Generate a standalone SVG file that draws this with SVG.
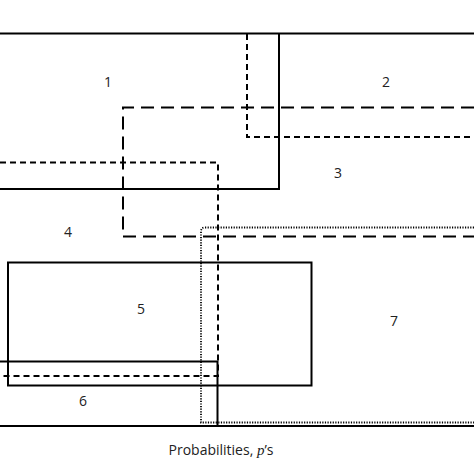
<svg xmlns="http://www.w3.org/2000/svg" width="474" height="474" viewBox="0 0 474 474">
<style>
.s{fill:none;stroke:#000;stroke-width:2}
.ld{fill:none;stroke:#000;stroke-width:2;stroke-dasharray:13 7}
.sd{fill:none;stroke:#000;stroke-width:2;stroke-dasharray:6 4}
.dt{fill:none;stroke:#000;stroke-width:1.8;stroke-dasharray:1.2 1.4}
.t{font-family:"Open Sans","Liberation Sans",sans-serif;font-size:14px;fill:#222;text-anchor:middle}
</style>
<rect width="474" height="474" fill="#fff"/>
<g id="axes">
<line class="s" x1="0" y1="33.5" x2="474" y2="33.5"/>
<line class="s" x1="0" y1="426" x2="474" y2="426"/>
</g>
<g id="set1"><path class="s" d="M0 189 H279 V33.5"/><text class="t" x="108" y="87">1</text></g>
<g id="set2"><path class="sd" d="M247 34 V137 H474"/><text class="t" x="386" y="87">2</text></g>
<g id="set3"><path class="ld" d="M474 107.5 H123 V236.5 H474"/><text class="t" x="338" y="178">3</text></g>
<g id="set4"><path class="sd" d="M0 162.5 H218 V376 H0"/><text class="t" x="68" y="237">4</text></g>
<g id="set5"><rect class="s" x="8" y="262.5" width="303.5" height="123"/><text class="t" x="141" y="314">5</text></g>
<g id="set6"><path class="s" d="M0 361.5 H217.5 V426"/><text class="t" x="83" y="406">6</text></g>
<g id="set7"><path class="dt" d="M474 227.5 H205 Q201 227.5 201 231.5 V422.5 H474"/><text class="t" x="394" y="326">7</text></g>
<g id="label"><text class="t" x="221" y="455">Probabilities, <tspan font-family="Liberation Serif,serif" font-style="italic" font-size="15">p</tspan>’s</text></g>
</svg>
